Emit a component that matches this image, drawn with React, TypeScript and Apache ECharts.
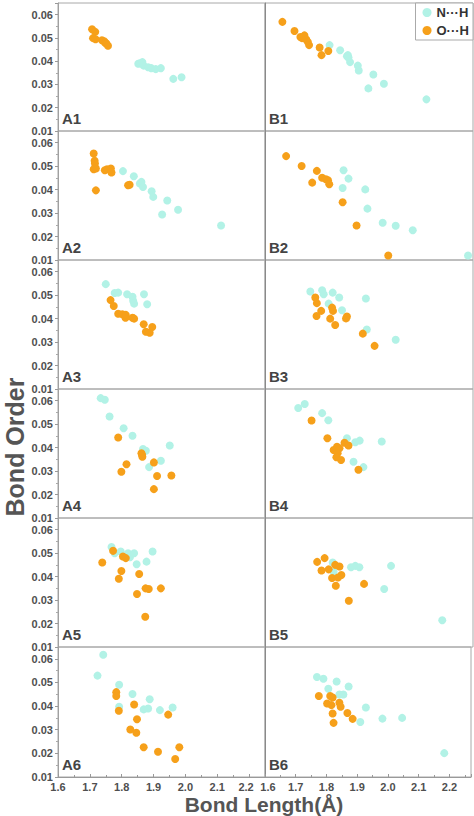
import React, { useEffect, useRef } from 'react';
import * as echarts from 'echarts';

// ---- data: [bond length (Å), bond order] ----
const A1_NH = [[1.852,0.0389],[1.857,0.0391],[1.865,0.0396],[1.869,0.0381],[1.883,0.0374],[1.893,0.037],[1.907,0.0366],[1.923,0.037],[1.962,0.0324],[1.988,0.0331]];
const A1_OH = [[1.707,0.0537],[1.717,0.0526],[1.710,0.0499],[1.718,0.0494],[1.738,0.049],[1.745,0.0486],[1.748,0.0479],[1.752,0.0476],[1.757,0.0466]];
const B1_NH = [[1.808,0.0469],[1.842,0.0447],[1.864,0.0421],[1.867,0.0426],[1.869,0.0416],[1.874,0.0396],[1.899,0.0381],[1.902,0.036],[1.949,0.0343],[1.983,0.0303],[1.933,0.0283],[2.12,0.0236]];
const B1_OH = [[1.656,0.0569],[1.695,0.053],[1.714,0.0504],[1.719,0.0499],[1.727,0.0511],[1.733,0.0493],[1.738,0.0483],[1.742,0.0469],[1.776,0.0459],[1.782,0.0426],[1.804,0.0444]];
const A2_NH = [[1.804,0.0479],[1.838,0.0457],[1.857,0.0426],[1.862,0.0433],[1.867,0.0411],[1.894,0.0393],[1.899,0.0369],[1.943,0.0354],[1.927,0.0294],[1.977,0.0314],[2.112,0.0247]];
const A2_OH = [[1.712,0.0554],[1.715,0.0523],[1.716,0.0511],[1.712,0.0487],[1.719,0.049],[1.719,0.0397],[1.747,0.0483],[1.754,0.0487],[1.766,0.049],[1.768,0.0473],[1.82,0.0419],[1.825,0.0421]];
const B2_NH = [[1.853,0.0483],[1.869,0.0447],[1.85,0.0407],[1.923,0.0401],[1.93,0.0319],[1.979,0.0259],[2.021,0.0246],[2.076,0.0227],[2.254,0.0119]];
const B2_OH = [[1.668,0.0543],[1.718,0.0501],[1.767,0.048],[1.784,0.0451],[1.796,0.0444],[1.803,0.044],[1.807,0.0423],[1.752,0.043],[1.85,0.0346],[1.895,0.0247],[1.997,0.0119]];
const A3_NH = [[1.75,0.0547],[1.778,0.0509],[1.789,0.0511],[1.817,0.0504],[1.834,0.0493],[1.836,0.0476],[1.839,0.0464],[1.87,0.0504],[1.88,0.0461]];
const A3_OH = [[1.765,0.0479],[1.775,0.0454],[1.789,0.0421],[1.802,0.0419],[1.812,0.0404],[1.813,0.0416],[1.834,0.0404],[1.839,0.04],[1.869,0.0376],[1.876,0.0344],[1.888,0.034],[1.896,0.0364]];
const B3_NH = [[1.746,0.0516],[1.784,0.0521],[1.789,0.0504],[1.818,0.0511],[1.839,0.049],[1.805,0.0464],[1.848,0.0436],[1.925,0.0486],[1.928,0.0354],[2.021,0.031]];
const B3_OH = [[1.762,0.049],[1.767,0.0466],[1.781,0.0433],[1.766,0.0411],[1.816,0.0447],[1.819,0.0433],[1.81,0.04],[1.826,0.0373],[1.864,0.0409],[1.861,0.0401],[1.915,0.0336],[1.953,0.0284]];
const A4_NH = [[1.734,0.0611],[1.747,0.0604],[1.762,0.0533],[1.806,0.0483],[1.834,0.0451],[1.867,0.0394],[1.876,0.0387],[1.886,0.0317],[1.923,0.0344],[1.951,0.0409]];
const A4_OH = [[1.789,0.0443],[1.799,0.0297],[1.815,0.0329],[1.862,0.0376],[1.864,0.0369],[1.865,0.0361],[1.901,0.0337],[1.911,0.0279],[1.901,0.0223],[1.956,0.0281]];
const B4_NH = [[1.707,0.0569],[1.728,0.0586],[1.784,0.0547],[1.804,0.0517],[1.864,0.044],[1.891,0.0423],[1.905,0.043],[1.976,0.0426],[1.885,0.034],[1.917,0.0317]];
const B4_OH = [[1.75,0.0516],[1.801,0.044],[1.821,0.039],[1.832,0.0404],[1.84,0.0397],[1.856,0.0421],[1.869,0.0409],[1.834,0.0376],[1.83,0.0359],[1.845,0.0347],[1.901,0.0306]];
const A5_NH = [[1.768,0.0526],[1.778,0.05],[1.797,0.0507],[1.82,0.05],[1.826,0.0483],[1.839,0.05],[1.847,0.0453],[1.878,0.0464],[1.897,0.0507]];
const A5_OH = [[1.739,0.046],[1.773,0.051],[1.804,0.0486],[1.813,0.0479],[1.799,0.0424],[1.791,0.0391],[1.855,0.0411],[1.848,0.0326],[1.875,0.035],[1.885,0.0347],[1.923,0.035],[1.874,0.0229]];
const B5_NH = [[1.818,0.046],[1.821,0.0421],[1.877,0.044],[1.891,0.0446],[1.904,0.044],[2.006,0.0446],[1.984,0.0347],[2.171,0.0214]];
const B5_OH = [[1.768,0.0463],[1.792,0.0479],[1.782,0.0426],[1.805,0.0431],[1.826,0.045],[1.84,0.0443],[1.816,0.0394],[1.835,0.0396],[1.846,0.0407],[1.828,0.0361],[1.919,0.0369],[1.87,0.0297]];
const A6_NH = [[1.742,0.0617],[1.724,0.0529],[1.792,0.049],[1.834,0.0451],[1.888,0.0429],[1.792,0.0397],[1.869,0.0386],[1.883,0.039],[1.92,0.0383],[1.96,0.0394]];
const A6_OH = [[1.783,0.0459],[1.783,0.0443],[1.791,0.038],[1.839,0.0407],[1.848,0.0344],[1.827,0.0301],[1.846,0.0287],[1.869,0.0226],[1.914,0.0207],[1.946,0.0364],[1.968,0.0176],[1.981,0.0226]];
const B6_NH = [[1.769,0.0523],[1.79,0.0516],[1.833,0.0504],[1.872,0.0483],[1.806,0.0473],[1.842,0.0449],[1.855,0.0449],[1.928,0.0394],[1.91,0.0333],[1.982,0.0347],[2.046,0.035],[2.183,0.0201]];
const B6_OH = [[1.775,0.0443],[1.812,0.0443],[1.82,0.0436],[1.802,0.0411],[1.816,0.0404],[1.842,0.0414],[1.846,0.0397],[1.82,0.0369],[1.868,0.0371],[1.885,0.0346],[1.823,0.0329]];

const PANEL_LABELS = ['A1','B1','A2','B2','A3','B3','A4','B4','A5','B5','A6','B6'];
const NH_SETS = [A1_NH,B1_NH,A2_NH,B2_NH,A3_NH,B3_NH,A4_NH,B4_NH,A5_NH,B5_NH,A6_NH,B6_NH];
const OH_SETS = [A1_OH,B1_OH,A2_OH,B2_OH,A3_OH,B3_OH,A4_OH,B4_OH,A5_OH,B5_OH,A6_OH,B6_OH];
const SERIES_NAMES = ['N···H', 'O···H'];
const X_TITLE = 'Bond Length(Å)';
const Y_TITLE = 'Bond Order';

const CYAN = '#b2f2e6';
const ORANGE = '#f6a01a';
const FONT = '"Liberation Sans", Arial, sans-serif';
const TXT = '#4f4f4f';

export default function App() {
  const ref = useRef<HTMLDivElement>(null);
  useEffect(() => {
    const chart = echarts.init(ref.current!, null, { renderer: 'svg' });
    const rowTops = [3, 131, 260, 389, 518, 647];
    const rowBottom = 777;
    const grids: any[] = [];
    const xAxes: any[] = [];
    const yAxes: any[] = [];
    const series: any[] = [];
    const graphics: any[] = [];
    const makeXFmt = (col: number) => (v: number) => {
      const k = Math.round(v * 10);
      if (Math.abs(v * 10 - k) > 1e-6) return '';
      const s = (k / 10).toFixed(1);
      if (col === 0 && k === 22) return `{r|${s}}`;
      if (col === 1 && k === 16) return `{l|${s}}`;
      return s;
    };
    const yFmt = (v: number) => {
      const k = Math.round(v * 100);
      return Math.abs(v * 100 - k) < 1e-6 ? (k / 100).toFixed(2) : '';
    };
    const labelRich = {
      r: { padding: [0, 6, 0, 0], color: TXT, fontWeight: 'bold', fontSize: 11, fontFamily: FONT },
      l: { padding: [0, 0, 0, 6], color: TXT, fontWeight: 'bold', fontSize: 11, fontFamily: FONT },
    };
    for (let r = 0; r < 6; r++) {
      for (let c = 0; c < 2; c++) {
        const idx = r * 2 + c;
        const top = rowTops[r];
        const bottom = r < 5 ? rowTops[r + 1] : rowBottom;
        const height = bottom - top;
        const left = c === 0 ? 58 : 265;
        const width = c === 0 ? 207 : 208;
        const isBottom = r === 5;
        grids.push({ left, top, width, height, show: true, borderColor: '#a8a8a8', borderWidth: 1, backgroundColor: 'transparent' });
        xAxes.push({
          type: 'value', gridIndex: idx, min: 1.6, max: c === 0 ? 2.25 : 2.27, interval: 0.1,
          position: 'bottom',
          axisLine: { show: isBottom, onZero: false, lineStyle: { color: '#999' } },
          axisTick: { show: isBottom, inside: true, length: 3, lineStyle: { color: '#999' } },
          minorTick: { show: isBottom, splitNumber: 2, length: 2, lineStyle: { color: '#999' } },
          axisLabel: { show: isBottom, formatter: makeXFmt(c), rich: labelRich, color: TXT, fontWeight: 'bold', fontSize: 11, fontFamily: FONT, margin: 4 },
          splitLine: { show: false },
        });
        yAxes.push({
          type: 'value', gridIndex: idx, min: 0.01, max: 0.065, interval: 0.01,
          axisLine: { show: true, onZero: false, lineStyle: { color: c === 0 ? '#a0a0a0' : '#8a8a8a' } },
          axisTick: { show: c === 0, length: 3, lineStyle: { color: '#999' } },
          minorTick: { show: c === 0, splitNumber: 2, length: 2, lineStyle: { color: '#aaa' } },
          axisLabel: { show: c === 0, formatter: yFmt, color: TXT, fontWeight: 'bold', fontSize: 11, fontFamily: FONT, margin: 5 },
          splitLine: { show: false },
        });
        series.push({
          type: 'scatter', name: SERIES_NAMES[0], xAxisIndex: idx, yAxisIndex: idx,
          data: NH_SETS[idx], symbolSize: 8, itemStyle: { color: CYAN, opacity: 1 },
        });
        series.push({
          type: 'scatter', name: SERIES_NAMES[1], xAxisIndex: idx, yAxisIndex: idx,
          data: OH_SETS[idx], symbolSize: 8, itemStyle: { color: ORANGE, opacity: 1 },
        });
        graphics.push({
          type: 'text', x: left + 4, y: bottom - 13, z: 10,
          style: { text: PANEL_LABELS[idx], fill: '#444', font: `bold 15px ${FONT}`, textAlign: 'left', verticalAlign: 'middle', textVerticalAlign: 'middle' },
        });
      }
    }
    graphics.push({
      type: 'text', x: 15, y: 447, rotation: Math.PI / 2,
      style: { text: Y_TITLE, fill: '#555', font: `bold 25px ${FONT}`, textAlign: 'center', verticalAlign: 'middle', textVerticalAlign: 'middle' },
    });
    graphics.push({
      type: 'text', x: 264, y: 804,
      style: { text: X_TITLE, fill: '#555', font: `bold 21px ${FONT}`, textAlign: 'center', verticalAlign: 'middle', textVerticalAlign: 'middle' },
    });

    chart.setOption({
      animation: false,
      backgroundColor: '#fff',
      grid: grids,
      xAxis: xAxes,
      yAxis: yAxes,
      series,
      graphic: graphics,
      legend: {
        data: SERIES_NAMES,
        orient: 'vertical',
        right: 1,
        top: 3,
        icon: 'circle',
        itemWidth: 9,
        itemHeight: 9,
        itemGap: 5,
        padding: [3, 4, 3, 7],
        borderColor: '#aaa',
        borderWidth: 1,
        backgroundColor: '#fff',
        textStyle: { fontSize: 13, fontWeight: 'bold', color: '#333', fontFamily: FONT },
      },
    });
    return () => chart.dispose();
  }, []);
  return <div ref={ref} style={{ position: 'absolute', left: 0, top: 0, width: 474, height: 816 }} />;
}
